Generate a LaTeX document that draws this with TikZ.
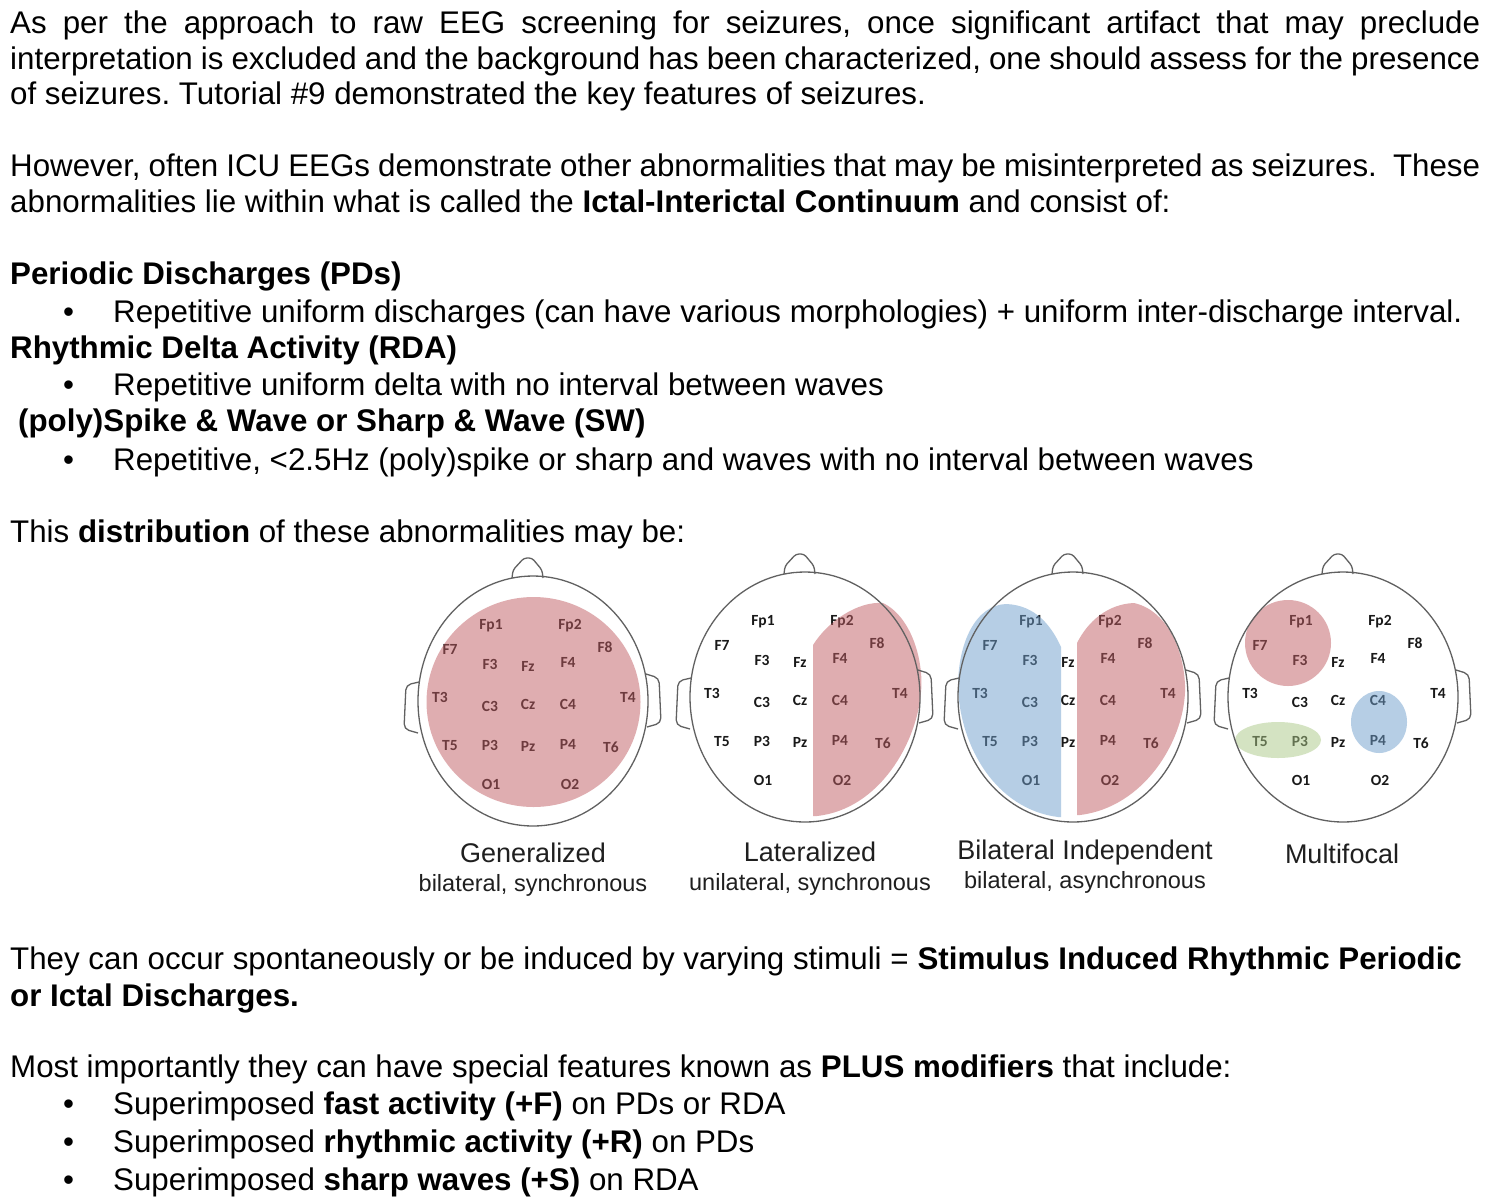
\documentclass[tikz,border=0pt]{standalone}
\usepackage{fontspec}
\setmainfont{Liberation Sans}
\newfontfamily\elfont{Carlito}
\frenchspacing
\definecolor{pinkbase}{RGB}{193,93,99}
\definecolor{bluebase}{RGB}{111,159,205}
\definecolor{greenbase}{RGB}{171,201,135}
\tikzset{
  txt/.style={anchor=base west, inner sep=0pt, font=\fontsize{31.3}{36}\selectfont},
  bul/.style={anchor=base west, inner sep=0pt, font=\fontsize{31.3}{36}\selectfont},
  el/.style={inner sep=0pt, font=\elfont\bfseries\fontsize{15.5}{15.5}\selectfont, text=black!90},
  headline/.style={draw=black!62, line width=1.3pt},
  capt/.style={anchor=base, inner sep=0pt, font=\fontsize{27}{30}\selectfont, text=black!88},
  subcapt/.style={anchor=base, inner sep=0pt, font=\fontsize{23.5}{26}\selectfont, text=black!88},
  region/.style={fill opacity=0.5}
}
\newcommand\eeglabels[1]{%
  \foreach \n/\lx/\ly in {Fp1/-37/-75, Fp2/42/-75, F7/-78/-52, F8/77/-54,
      F3/-38/-37, Fz/0/-35, F4/40/-39, T3/-88/-4, C3/-38/5, Cz/0/3, C4/40/3,
      T4/100/-4, T5/-78/45, P3/-38/44, Pz/0/45, P4/40/43, T6/83/46,
      O1/-37/83, O2/42/83}
    {\node[el] (#1\n) at (\lx,\ly) {\n};}%
}
\newcommand\eegoutline{%
  \draw[headline] (5,0) ellipse [x radius=115, y radius=125];
  \draw[headline, rounded corners=3pt] (-16,-123) -- (-15,-131) -- (-4,-143) -- (4,-143) -- (14,-131) -- (15,-123);
  \draw[headline, rounded corners=5pt] (-109,-19) -- (-122,-16) -- (-124,28) -- (-110,32);
  \draw[headline, rounded corners=5pt] (118,-27) -- (131,-23) -- (133,22) -- (119,26);
}
\begin{document}
\begin{tikzpicture}[x=1pt, y=-1pt]
\fill[white] (0,0) rectangle (1487,1200);
\useasboundingbox (0,0) rectangle (1487,1200);

% ---- top text ----
\node[txt] (l1) at (10,33) {\hbox to 1470pt{As per the approach to raw EEG screening for seizures, once significant artifact that may preclude}};
\node[txt] (l2) at (10,69) {\hbox to 1470pt{interpretation is excluded and the background has been characterized, one should assess for the presence}};
\node[txt] (l3) at (10,104) {of seizures. Tutorial \#9 demonstrated the key features of seizures.};
\node[txt] (l4) at (10,176) {\hbox to 1470pt{However, often ICU EEGs demonstrate other abnormalities that may be misinterpreted as seizures.\ \ These}};
\node[txt] (l5) at (10,212) {abnormalities lie within what is called the \textbf{Ictal-Interictal Continuum} and consist of:};

\node[txt] (pd) at (10,284) {\textbf{Periodic Discharges (PDs)}};
\node[bul] (b1) at (63,322) {•};
\node[txt] (t1) at (113,322) {Repetitive uniform discharges (can have various morphologies) + uniform inter-discharge interval.};
\node[txt] (rda) at (10,358) {\textbf{Rhythmic Delta Activity (RDA)}};
\node[bul] (b2) at (63,395) {•};
\node[txt] (t2) at (113,395) {Repetitive uniform delta with no interval between waves};
\node[txt] (sw) at (18,431) {\textbf{(poly)Spike \& Wave or Sharp \& Wave (SW)}};
\node[bul] (b3) at (63,470) {•};
\node[txt] (t3) at (113,470) {Repetitive, <2.5Hz (poly)spike or sharp and waves with no interval between waves};
\node[txt] (dist) at (10,542) {This \textbf{distribution} of these abnormalities may be:};

% ---- heads ----
% Head 1: Generalized
\begin{scope}[shift={(528,701)}]
  \eeglabels{ga}
  \fill[pinkbase, region] (5.5,1) ellipse [x radius=107, y radius=105];
  \eegoutline
\end{scope}
% Head 2: Lateralized
\begin{scope}[shift={(800,697)}]
  \eeglabels{la}
  \fill[pinkbase, region] (13,119) -- (13,-52) .. controls (28,-76) and (58,-96) .. (83,-94)
     .. controls (112,-80) and (124,-35) .. (121,-5)
     .. controls (117,45) and (80,112) .. (17,119) -- cycle;
  \eegoutline
\end{scope}
% Head 3: Bilateral independent
\begin{scope}[shift={(1068,697)}]
  \eeglabels{bi}
  \fill[bluebase, region] (-7,120) -- (-7,-50) .. controls (-16,-70) and (-32,-92) .. (-62,-93)
     .. controls (-92,-92) and (-110,-55) .. (-110,-10)
     .. controls (-108,50) and (-72,112) .. (-10,120) -- cycle;
  \fill[pinkbase, region] (9,118) -- (9,-54) .. controls (20,-76) and (40,-93) .. (66,-94)
     .. controls (102,-86) and (118,-40) .. (117,-5)
     .. controls (115,45) and (76,110) .. (12,118) -- cycle;
  \eegoutline
\end{scope}
% Head 4: Multifocal
\begin{scope}[shift={(1338,697)}]
  \eeglabels{mf}
  \fill[pinkbase, region] (-50,-54) circle [radius=43];
  \fill[bluebase, region] (41,25) ellipse [x radius=28, y radius=31];
  \fill[greenbase, region] (-60,43) ellipse [x radius=43, y radius=18];
  \eegoutline
\end{scope}

% captions
\node[capt] (c1) at (533,862) {Generalized};
\node[subcapt] (s1) at (533,891) {bilateral, synchronous};
\node[capt] (c2) at (810,861) {Lateralized};
\node[subcapt] (s2) at (810,890) {unilateral, synchronous};
\node[capt] (c3) at (1085,859) {Bilateral Independent};
\node[subcapt] (s3) at (1085,888) {bilateral, asynchronous};
\node[capt] (c4) at (1342,863) {Multifocal};

% ---- bottom text ----
\node[txt] (l6) at (10,969) {They can occur spontaneously or be induced by varying stimuli = \textbf{Stimulus Induced Rhythmic Periodic}};
\node[txt] (l7) at (10,1006) {\textbf{or Ictal Discharges.}};
\node[txt] (l8) at (10,1077) {Most importantly they can have special features known as \textbf{PLUS modifiers} that include:};
\node[bul] (b4) at (63,1114) {•};
\node[txt] (t4) at (113,1114) {Superimposed \textbf{fast activity (+F)} on PDs or RDA};
\node[bul] (b5) at (63,1152) {•};
\node[txt] (t5) at (113,1152) {Superimposed \textbf{rhythmic activity (+R)} on PDs};
\node[bul] (b6) at (63,1190) {•};
\node[txt] (t6) at (113,1190) {Superimposed \textbf{sharp waves (+S)} on RDA};
\end{tikzpicture}
\end{document}
